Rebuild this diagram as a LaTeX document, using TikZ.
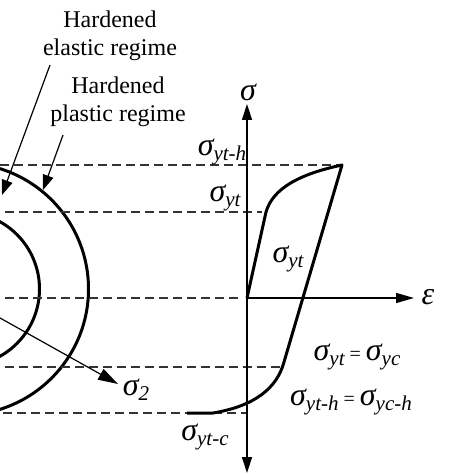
\documentclass[tikz,border=0pt]{standalone}
\usepackage{fontspec}
\setmainfont{Liberation Serif}
\usetikzlibrary{arrows.meta,positioning}

% sigma with subscript, set as in the figure
\newcommand{\sgm}[1]{{\fontsize{16}{18}\selectfont\itshape σ}\raisebox{-0.55ex}{\fontsize{10.5}{12}\selectfont\itshape #1}}
\newcommand{\gk}[1]{{\fontsize{16}{18}\selectfont\itshape #1}}

\tikzset{
  dashln/.style={line width=0.6pt, black!80, dash pattern=on 4.5pt off 2.5pt},
  thk/.style={line width=1.5pt},
  axisln/.style={line width=0.7pt},
  ptr/.style={line width=0.6pt, -{Triangle[length=7.5pt,width=5.5pt]}},
  lbl/.style={font=\fontsize{12}{14}\selectfont, align=center, inner sep=0pt},
  sym/.style={inner sep=0pt}
}

\begin{document}
\begin{tikzpicture}[x=0.5pt, y=-0.5pt]
    \clip (0,0) rectangle (474,474);

    % key points
    \coordinate (ctr) at (-37.5,289);
    \coordinate (O) at (247,298);
    \coordinate (Y) at (266,212);
    \coordinate (P) at (342,165);
    \coordinate (U) at (284,362);
    \coordinate (C) at (213,413);
    \coordinate (E) at (187,413);

    % yield surfaces
    \draw [thk] (ctr) circle [radius=38.5pt];
    \draw [thk] (ctr) circle [radius=63pt];

    % dashed levels
    \draw [dashln] (0,165) -- (P);
    \draw [dashln] (5,212) -- (262,212);
    \draw [dashln] (5,298) -- (240,298);
    \draw [dashln] (5,367) -- (280,367);
    \draw [dashln] (3,413) -- (O |- E);

    % axes
    \coordinate (xend) at (414,298);
    \coordinate (ytop) at (247,104);
    \coordinate (ybot) at (247,473);
    \draw [axisln, -{Triangle[length=9pt,width=5pt]}] (O) -- (xend);
    \draw [axisln, {Triangle[length=8pt,width=5pt]}-{Triangle[length=8pt,width=5pt]}] (ybot) -- (ytop);
    \node [sym] (sax) at (248,92) {\gk{σ}};
    \node [sym] (eps) at (428,297) {\gk{ε}};

    % stress-strain loop
    \draw [thk, line join=round] (O) -- (Y) .. controls (273,188) and (300,174) .. (P)
        -- (U) .. controls (277,388) and (255,406) .. (C) -- (E);

    % labels
    \node [sym] (syth) at (222,152) {\sgm{yt-h}};
    \node [sym] (syt) at (225,198) {\sgm{yt}};
    \node [sym] (sin) at (288,259) {\sgm{yt}};
    \node [sym] (eq1) at (357,357) {\sgm{yt} = \sgm{yc}};
    \node [sym] (eq2) at (351,402) {\sgm{yt-h} = \sgm{yc-h}};
    \node [sym] (sytc) at (205,437) {\sgm{yt-c}};

    % region pointers
    \node [lbl] (elas) at (110,36) {Hardened\\elastic regime};
    \node [lbl] (plas) at (118,102) {Hardened\\plastic regime};
    \coordinate (e0) at (50,65);   \coordinate (e1) at (2,195);
    \coordinate (p0) at (63,135);  \coordinate (p1) at (43,190);
    \draw [ptr] (e0) -- (e1);
    \draw [ptr] (p0) -- (p1);

    % sigma_2 direction
    \coordinate (s2a) at (-37.5,297);
    \coordinate (s2b) at (118,384);
    \draw [line width=0.6pt, -{Triangle[length=10pt,width=6pt]}] (s2a) -- (s2b);
    \node [sym] (s2) at (136,390) {\sgm{2}};
\end{tikzpicture}
\end{document}
